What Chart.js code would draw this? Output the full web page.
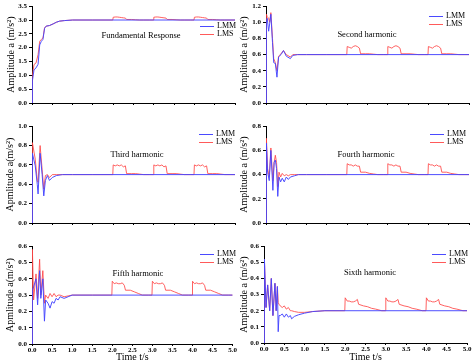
<!DOCTYPE html>
<html><head><meta charset="utf-8">
<script src="https://cdn.jsdelivr.net/npm/chart.js@4"></script>
<style>
html,body{margin:0;padding:0;background:#fff;width:474px;height:363px;overflow:hidden;position:relative}
canvas{position:absolute}
</style></head><body>
<canvas id="c1" width="237" height="120" style="left:0;top:0"></canvas>
<canvas id="c2" width="237" height="120" style="left:237px;top:0"></canvas>
<canvas id="c3" width="237" height="120" style="left:0;top:120px"></canvas>
<canvas id="c4" width="237" height="120" style="left:237px;top:120px"></canvas>
<canvas id="c5" width="237" height="123" style="left:0;top:240px"></canvas>
<canvas id="c6" width="237" height="123" style="left:237px;top:240px"></canvas>
<script>
// ---------- DATA ----------
const seriesNames = ['LMM', 'LMS'];
const panelTitles = ['Fundamental Response', 'Second harmonic', 'Third harmonic', 'Fourth harmonic', 'Fifth harmonic', 'Sixth harmonic'];
const yTitles = ['Amplitude a (m/s\u00B2)', 'Amplitude a (m/s\u00B2)', 'Apmlitude a(m/s\u00B2)', 'Amplitude a (m/s\u00B2)', 'Apmlitude a(m/s\u00B2)', 'Amplitude a (m/s\u00B2)'];
const xTitle = 'Time t/s';
const yMaxes = [3.5, 1.2, 1.0, 0.8, 0.6, 0.6];
const ySteps = [0.5, 0.2, 0.2, 0.2, 0.1, 0.1];

// time points after the start-up transient (shared by LMS curves)
const stepTimes = [1.5, 1.99,
  2.0, 2.05, 2.1, 2.15, 2.2, 2.25, 2.3, 2.33, 2.45, 2.55, 2.65, 2.75, 2.9, 2.99,
  3.0, 3.05, 3.1, 3.15, 3.2, 3.25, 3.3, 3.33, 3.45, 3.55, 3.65, 3.75, 3.9, 3.99,
  4.0, 4.05, 4.1, 4.15, 4.2, 4.25, 4.3, 4.33, 4.45, 4.55, 4.65, 4.75, 4.9, 5.0];
// time points after the transient for LMM curves
const tailTimes = [1.5, 5.0];

// Fundamental
const t1 = [0, 0.01, 0.05, 0.1, 0.15, 0.19, 0.23, 0.27, 0.31, 0.35, 0.43, 0.52, 0.6, 0.68, 0.8, 1.0];
const lmm1 = [0, 0.8, 1.2, 1.27, 1.4, 2.1, 2.23, 2.3, 2.7, 2.78, 2.8, 2.86, 2.92, 2.96, 2.98, 3.0, 3.0, 3.0];
const lms1 = [0, 1.0, 1.39, 1.45, 1.75, 2.23, 2.3, 2.35, 2.72, 2.78, 2.8, 2.86, 2.92, 2.96, 2.98, 3.0,
  3.0, 3.0,
  3.1, 3.11, 3.11, 3.1, 3.09, 3.08, 3.07, 3.02, 3.02, 3.01, 3.0, 3.0, 3.0, 3.0,
  3.1, 3.11, 3.11, 3.1, 3.09, 3.08, 3.07, 3.02, 3.02, 3.01, 3.0, 3.0, 3.0, 3.0,
  3.1, 3.11, 3.11, 3.1, 3.09, 3.08, 3.07, 3.02, 3.02, 3.01, 3.0, 3.0, 3.0, 3.0];

// Second harmonic
const t2 = [0, 0.01, 0.03, 0.065, 0.09, 0.12, 0.16, 0.19, 0.23, 0.27, 0.31, 0.37, 0.43, 0.5, 0.6, 0.66, 0.78, 1.0];
const lmm2 = [0, 1.0, 1.05, 0.89, 0.98, 1.1, 0.75, 0.5, 0.49, 0.32, 0.57, 0.6, 0.65, 0.58, 0.55, 0.59, 0.6, 0.6, 0.6, 0.6];
const lms2 = [0, 1.1, 1.07, 1.05, 1.0, 1.12, 0.8, 0.55, 0.5, 0.4, 0.58, 0.61, 0.65, 0.6, 0.57, 0.6, 0.6, 0.6,
  0.6, 0.6,
  0.7, 0.69, 0.68, 0.7, 0.71, 0.7, 0.68, 0.61, 0.61, 0.61, 0.605, 0.6, 0.6, 0.6,
  0.7, 0.69, 0.68, 0.7, 0.71, 0.7, 0.68, 0.61, 0.61, 0.61, 0.605, 0.6, 0.6, 0.6,
  0.7, 0.69, 0.68, 0.7, 0.71, 0.7, 0.68, 0.61, 0.61, 0.61, 0.605, 0.6, 0.6, 0.6];

// Third harmonic
const t3 = [0, 0.01, 0.08, 0.13, 0.15, 0.2, 0.25, 0.29, 0.33, 0.38, 0.43, 0.5, 0.6, 0.75, 1.0];
const lmm3 = [0, 0.72, 0.59, 0.4, 0.3, 0.72, 0.5, 0.28, 0.44, 0.49, 0.44, 0.47, 0.49, 0.5, 0.5, 0.5, 0.5];
const lms3 = [0, 0.83, 0.66, 0.44, 0.42, 0.8, 0.55, 0.35, 0.49, 0.5, 0.47, 0.5, 0.5, 0.5, 0.5,
  0.5, 0.5,
  0.6, 0.59, 0.6, 0.59, 0.6, 0.58, 0.59, 0.51, 0.51, 0.51, 0.505, 0.5, 0.5, 0.5,
  0.6, 0.59, 0.6, 0.59, 0.6, 0.58, 0.59, 0.51, 0.51, 0.51, 0.505, 0.5, 0.5, 0.5,
  0.6, 0.59, 0.6, 0.59, 0.6, 0.58, 0.59, 0.51, 0.51, 0.51, 0.505, 0.5, 0.5, 0.5];

// Fourth harmonic
const t4 = [0, 0.01, 0.04, 0.08, 0.12, 0.17, 0.2, 0.23, 0.26, 0.29, 0.32, 0.36, 0.4, 0.45, 0.5, 0.55, 0.6, 0.7, 0.8, 1.0];
const lmm4 = [0, 0.66, 0.42, 0.35, 0.6, 0.27, 0.5, 0.52, 0.45, 0.22, 0.38, 0.34, 0.37, 0.34, 0.38, 0.36, 0.38, 0.39, 0.4, 0.4, 0.4, 0.4];
const lms4 = [0, 0.7, 0.45, 0.38, 0.62, 0.35, 0.5, 0.56, 0.5, 0.3, 0.42, 0.38, 0.41, 0.39, 0.4, 0.39, 0.4, 0.4, 0.4, 0.4,
  0.4, 0.4,
  0.49, 0.48, 0.48, 0.47, 0.48, 0.47, 0.47, 0.42, 0.42, 0.41, 0.405, 0.4, 0.4, 0.4,
  0.49, 0.48, 0.48, 0.47, 0.48, 0.47, 0.47, 0.42, 0.42, 0.41, 0.405, 0.4, 0.4, 0.4,
  0.49, 0.48, 0.48, 0.47, 0.48, 0.47, 0.47, 0.42, 0.42, 0.41, 0.405, 0.4, 0.4, 0.4];

// Fifth harmonic
const t5 = [0, 0.01, 0.04, 0.1, 0.14, 0.19, 0.22, 0.27, 0.31, 0.34, 0.4, 0.45, 0.5, 0.55, 0.6, 0.65, 0.7, 0.8, 0.9, 1.0];
const lmm5 = [0, 0.33, 0.35, 0.4, 0.24, 0.45, 0.28, 0.4, 0.14, 0.27, 0.25, 0.22, 0.26, 0.25, 0.28, 0.27, 0.29, 0.28, 0.29, 0.3, 0.3, 0.3];
const lms5 = [0, 0.58, 0.27, 0.43, 0.28, 0.52, 0.3, 0.45, 0.25, 0.3, 0.28, 0.31, 0.29, 0.31, 0.29, 0.3, 0.3, 0.29, 0.295, 0.3,
  0.3, 0.3,
  0.385, 0.37, 0.375, 0.37, 0.37, 0.375, 0.36, 0.33, 0.33, 0.32, 0.31, 0.3, 0.3, 0.3,
  0.385, 0.37, 0.375, 0.37, 0.37, 0.375, 0.36, 0.33, 0.33, 0.32, 0.31, 0.3, 0.3, 0.3,
  0.385, 0.37, 0.375, 0.37, 0.37, 0.375, 0.36, 0.33, 0.33, 0.32, 0.31, 0.3, 0.3, 0.3];

// Sixth harmonic
const t6 = [0, 0.01, 0.05, 0.09, 0.14, 0.18, 0.22, 0.27, 0.3, 0.33, 0.35, 0.37, 0.4, 0.45, 0.5, 0.55, 0.6, 0.65, 0.68, 0.75, 0.85, 1.0, 1.2];
const lmm6 = [0, 0.52, 0.22, 0.36, 0.2, 0.4, 0.17, 0.37, 0.2, 0.35, 0.07, 0.17, 0.17, 0.18, 0.16, 0.18, 0.16, 0.17, 0.15, 0.165, 0.175, 0.185, 0.195, 0.2, 0.2];
const lms6 = [0, 0.52, 0.22, 0.36, 0.2, 0.4, 0.17, 0.37, 0.2, 0.35, 0.25, 0.24, 0.23, 0.22, 0.23, 0.21, 0.22, 0.2, 0.2, 0.195, 0.19, 0.19, 0.195,
  0.2, 0.2,
  0.28, 0.26, 0.26, 0.255, 0.255, 0.26, 0.27, 0.24, 0.23, 0.225, 0.215, 0.21, 0.2, 0.2,
  0.28, 0.26, 0.26, 0.255, 0.255, 0.26, 0.27, 0.24, 0.23, 0.225, 0.215, 0.21, 0.2, 0.2,
  0.28, 0.26, 0.26, 0.255, 0.255, 0.26, 0.27, 0.24, 0.23, 0.225, 0.215, 0.21, 0.2, 0.2];

const transientTimes = [t1, t2, t3, t4, t5, t6];
const lmmValues = [lmm1, lmm2, lmm3, lmm4, lmm5, lmm6];
const lmsValues = [lms1, lms2, lms3, lms4, lms5, lms6];

// ---------- LAYOUT / STYLE ----------
const FAMILY = '"Liberation Serif", "Times New Roman", serif';
const COLORS = ['rgba(70,70,255,0.95)', 'rgba(255,70,70,0.85)'];
const LEGEND_COLORS = ['#4a4aff', '#ff5a5a'];
const layouts = [
  {id:'c1', left:32, right:2, top:5, xh:17, yPad:5, tx:141, ty:36, lx:200, ly:[26,34], bottomRow:false},
  {id:'c2', left:29, right:5, top:5, xh:17, yPad:1, tx:130, ty:35, lx:192, ly:[16,24], bottomRow:false},
  {id:'c3', left:32, right:2, top:5, xh:17, yPad:4, tx:137, ty:35, lx:199, ly:[14,22], bottomRow:false},
  {id:'c4', left:29, right:5, top:5, xh:17, yPad:1, tx:129, ty:35, lx:193, ly:[14,22], bottomRow:false},
  {id:'c5', left:32, right:2, top:5, xh:19, yPad:4, tx:138, ty:34, lx:200, ly:[14,22], bottomRow:true},
  {id:'c6', left:27, right:7, top:5, xh:20, yPad:1, tx:133, ty:33, lx:195, ly:[14,22], bottomRow:true}
];

const panelText = {
  id: 'panelText',
  afterDatasetsDraw(chart, args, o) {
    const ctx = chart.ctx;
    ctx.save();
    ctx.fillStyle = '#000';
    ctx.font = '8.5px ' + FAMILY;
    ctx.textAlign = 'center';
    ctx.textBaseline = 'middle';
    ctx.fillText(o.label, o.x, o.y);
    ctx.font = '8px ' + FAMILY;
    ctx.textAlign = 'left';
    chart.data.datasets.forEach((ds, i) => {
      const y = Math.round(o.legY[i]) + 0.5;
      ctx.strokeStyle = LEGEND_COLORS[i];
      ctx.lineWidth = 1;
      ctx.beginPath();
      ctx.moveTo(o.legX, y);
      ctx.lineTo(o.legX + 14, y);
      ctx.stroke();
      ctx.fillStyle = '#000';
      ctx.fillText(ds.label, o.legX + 17, o.legY[i]);
    });
    ctx.restore();
  }
};

function pairs(ts, vs) { return ts.map((t, i) => ({x: t, y: vs[i]})); }

layouts.forEach((L, k) => {
  const tk = transientTimes[k];
  const datasets = [
    {label: seriesNames[0], data: pairs(tk.concat(tailTimes), lmmValues[k]), borderColor: COLORS[0], borderWidth: 1, pointRadius: 0, tension: 0, fill: false},
    {label: seriesNames[1], data: pairs(tk.concat(stepTimes), lmsValues[k]), borderColor: COLORS[1], borderWidth: 1, pointRadius: 0, tension: 0, fill: false}
  ];
  const tickFont = {family: FAMILY, size: 7, weight: 'bold'};
  new Chart(document.getElementById(L.id), {
    type: 'line',
    data: {datasets},
    plugins: [panelText],
    options: {
      responsive: false, animation: false, devicePixelRatio: 1,
      layout: {padding: {left: 0, right: L.right, top: L.top, bottom: 0}},
      plugins: {
        legend: {display: false}, tooltip: {enabled: false},
        panelText: {label: panelTitles[k], x: L.tx, y: L.ty, legX: L.lx, legY: L.ly}
      },
      scales: {
        x: {
          type: 'linear', min: 0, max: 5,
          afterFit: s => { s.height = L.xh; },
          ticks: {display: L.bottomRow, stepSize: 0.5, autoSkip: false, maxRotation: 0,
                  callback: v => v.toFixed(1), font: tickFont, color: '#000', padding: 0},
          grid: {drawOnChartArea: false, drawTicks: true, tickLength: 2, color: '#000'},
          border: {display: true, color: '#000', width: 1},
          title: {display: L.bottomRow, text: xTitle, color: '#000', font: {family: FAMILY, size: 10}, padding: 0}
        },
        y: {
          min: 0, max: yMaxes[k],
          afterFit: s => { s.width = L.left; },
          ticks: {stepSize: ySteps[k], callback: v => v.toFixed(1), font: tickFont, color: '#000', padding: 2},
          grid: {drawOnChartArea: false, drawTicks: true, tickLength: 3, color: '#000'},
          border: {display: true, color: '#000', width: 1},
          title: {display: true, text: yTitles[k], color: '#000', font: {family: FAMILY, size: 10}, padding: {top: L.yPad, bottom: 0}}
        }
      }
    }
  });
});
</script>
</body></html>
